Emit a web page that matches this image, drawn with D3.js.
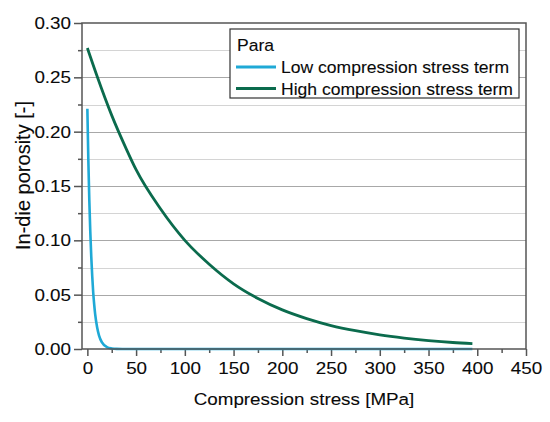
<!DOCTYPE html>
<html>
<head>
<meta charset="utf-8">
<script src="https://cdn.jsdelivr.net/npm/d3@7"></script>
<style>
  body { margin: 0; background: #fff; }
  text { font-family: "Liberation Sans", Arial, sans-serif; fill: #0a0a0a; stroke: #0a0a0a; stroke-width: 0.1px; }
</style>
</head>
<body>
<div id="chart"></div>
<script>
// stress in MPa, porosity
var highStress = [0, 10, 25, 40, 50, 75, 100, 125, 150, 175, 200, 225, 250, 275, 300, 325, 350, 375, 395];
var highPorosity = [0.277, 0.251, 0.215, 0.184, 0.165, 0.129, 0.100, 0.078, 0.060, 0.0465, 0.036, 0.028, 0.0216, 0.0168, 0.013, 0.0101, 0.0078, 0.006, 0.005];

var lowStress = [0, 1, 2, 3, 4, 5, 6, 7, 8, 10, 12, 15, 20, 25, 30, 50, 100, 200, 300, 395];
var lowPorosity = [0.221, 0.174, 0.137, 0.108, 0.085, 0.067, 0.052, 0.041, 0.032, 0.020, 0.0124, 0.006, 0.0018, 0.0005, 0.0001, 0, 0, 0, 0, 0];

var seriesNames = ["Low compression stress term", "High compression stress term"];
var seriesColors = ["#1fa9d6", "#0b6b4d"];
var legendTitle = "Para";

var xTicks = [0, 50, 100, 150, 200, 250, 300, 350, 400, 450];
var yTicks = [0, 0.05, 0.10, 0.15, 0.20, 0.25, 0.30];

var width = 550,
    height = 422,
    margin = {top: 23, right: 24, bottom: 73, left: 82};

var xScale = d3.scaleLinear()
    .domain([-5.5, 450])
    .range([margin.left, width - margin.right]);

var yScale = d3.scaleLinear()
    .domain([0, 0.30])
    .range([height - margin.bottom, margin.top]);

var svg = d3.select("#chart")
    .append("svg")
    .attr("width", width)
    .attr("height", height);

// minor grid
svg.append("g")
    .selectAll("line")
    .data(d3.range(0.025, 0.30, 0.05))
    .enter()
    .append("line")
    .attr("x1", margin.left)
    .attr("x2", width - margin.right)
    .attr("y1", function(d) { return Math.round(yScale(d)) + 0.5; })
    .attr("y2", function(d) { return Math.round(yScale(d)) + 0.5; })
    .attr("stroke", "#d4d4d4")
    .attr("stroke-width", 1.2);

// major grid
svg.append("g")
    .selectAll("line")
    .data(yTicks.slice(1, -1))
    .enter()
    .append("line")
    .attr("x1", margin.left)
    .attr("x2", width - margin.right)
    .attr("y1", function(d) { return Math.round(yScale(d)) + 0.5; })
    .attr("y2", function(d) { return Math.round(yScale(d)) + 0.5; })
    .attr("stroke", "#a8a8a8")
    .attr("stroke-width", 1);

// axes
svg.append("g")
    .attr("transform", "translate(0," + yScale(0) + ")")
    .call(d3.axisBottom(xScale).tickValues(xTicks).tickSize(7).tickPadding(6).tickFormat(d3.format("d")));

svg.append("g")
    .attr("transform", "translate(0," + yScale(0) + ")")
    .call(d3.axisBottom(xScale).tickValues(d3.range(25, 450, 50)).tickSize(4).tickFormat(""));

svg.append("g")
    .attr("transform", "translate(" + margin.left + ",0)")
    .call(d3.axisLeft(yScale).tickValues(yTicks).tickSize(8).tickPadding(3).tickFormat(d3.format(".2f")));

svg.append("g")
    .attr("transform", "translate(" + margin.left + ",0)")
    .call(d3.axisLeft(yScale).tickValues(d3.range(0.025, 0.30, 0.05)).tickSize(4).tickFormat(""));

svg.selectAll(".domain").remove();
svg.selectAll(".tick line").attr("stroke", "#555").attr("stroke-width", 1.5);
svg.selectAll(".tick text").attr("class", "wide").style("font-size", "17.2px").attr("fill", null);

// curves
var line = d3.line()
    .x(function(d) { return xScale(d[0]); })
    .y(function(d) { return yScale(d[1]); })
    .curve(d3.curveMonotoneX);

svg.append("path")
    .datum(d3.zip(lowStress, lowPorosity))
    .attr("d", line)
    .attr("fill", "none")
    .attr("stroke", seriesColors[0])
    .attr("stroke-width", 2.6);

svg.append("path")
    .datum(d3.zip(highStress, highPorosity))
    .attr("d", line)
    .attr("fill", "none")
    .attr("stroke", seriesColors[1])
    .attr("stroke-width", 2.8);

// frame
svg.append("rect")
    .attr("x", margin.left)
    .attr("y", margin.top)
    .attr("width", width - margin.left - margin.right)
    .attr("height", height - margin.top - margin.bottom)
    .attr("fill", "none")
    .attr("stroke", "#555")
    .attr("stroke-width", 1.5);

// axis titles
svg.append("text")
    .attr("class", "wide")
    .attr("x", (margin.left + width - margin.right) / 2)
    .attr("y", 405)
    .attr("text-anchor", "middle")
    .style("font-size", "17.2px")
    .text("Compression stress [MPa]");

svg.append("text")
    .attr("transform", "translate(30,175.5) rotate(-90)")
    .attr("text-anchor", "middle")
    .style("font-size", "20px")
    .text("In-die porosity [-]");

// legend
var legend = svg.append("g").attr("transform", "translate(230,29)");

legend.append("rect")
    .attr("width", 289)
    .attr("height", 69)
    .attr("fill", "#fff")
    .attr("stroke", "#333")
    .attr("stroke-width", 1.2);

legend.append("text")
    .attr("class", "wide leg")
    .attr("x", 7)
    .attr("y", 22)
    .style("font-size", "16.4px")
    .text(legendTitle);

var items = legend.selectAll(".item")
    .data(seriesNames)
    .enter()
    .append("g")
    .attr("class", "item")
    .attr("transform", function(d, i) { return "translate(0," + (38 + i * 21.5) + ")"; });

items.append("line")
    .attr("x1", 6)
    .attr("x2", 46)
    .attr("stroke", function(d, i) { return seriesColors[i]; })
    .attr("stroke-width", 3.2);

items.append("text")
    .attr("class", "wide leg")
    .attr("x", 51)
    .attr("y", 6)
    .style("font-size", "16.4px")
    .text(function(d) { return d; });

// the reference glyphs are a little wider than they are tall
svg.selectAll("text.wide").each(function() {
    var len = this.getComputedTextLength();
    var k = d3.select(this).classed("leg") ? 1.07 : 1.095;
    d3.select(this)
        .attr("textLength", len * k)
        .attr("lengthAdjust", "spacingAndGlyphs");
});
</script>
</body>
</html>
